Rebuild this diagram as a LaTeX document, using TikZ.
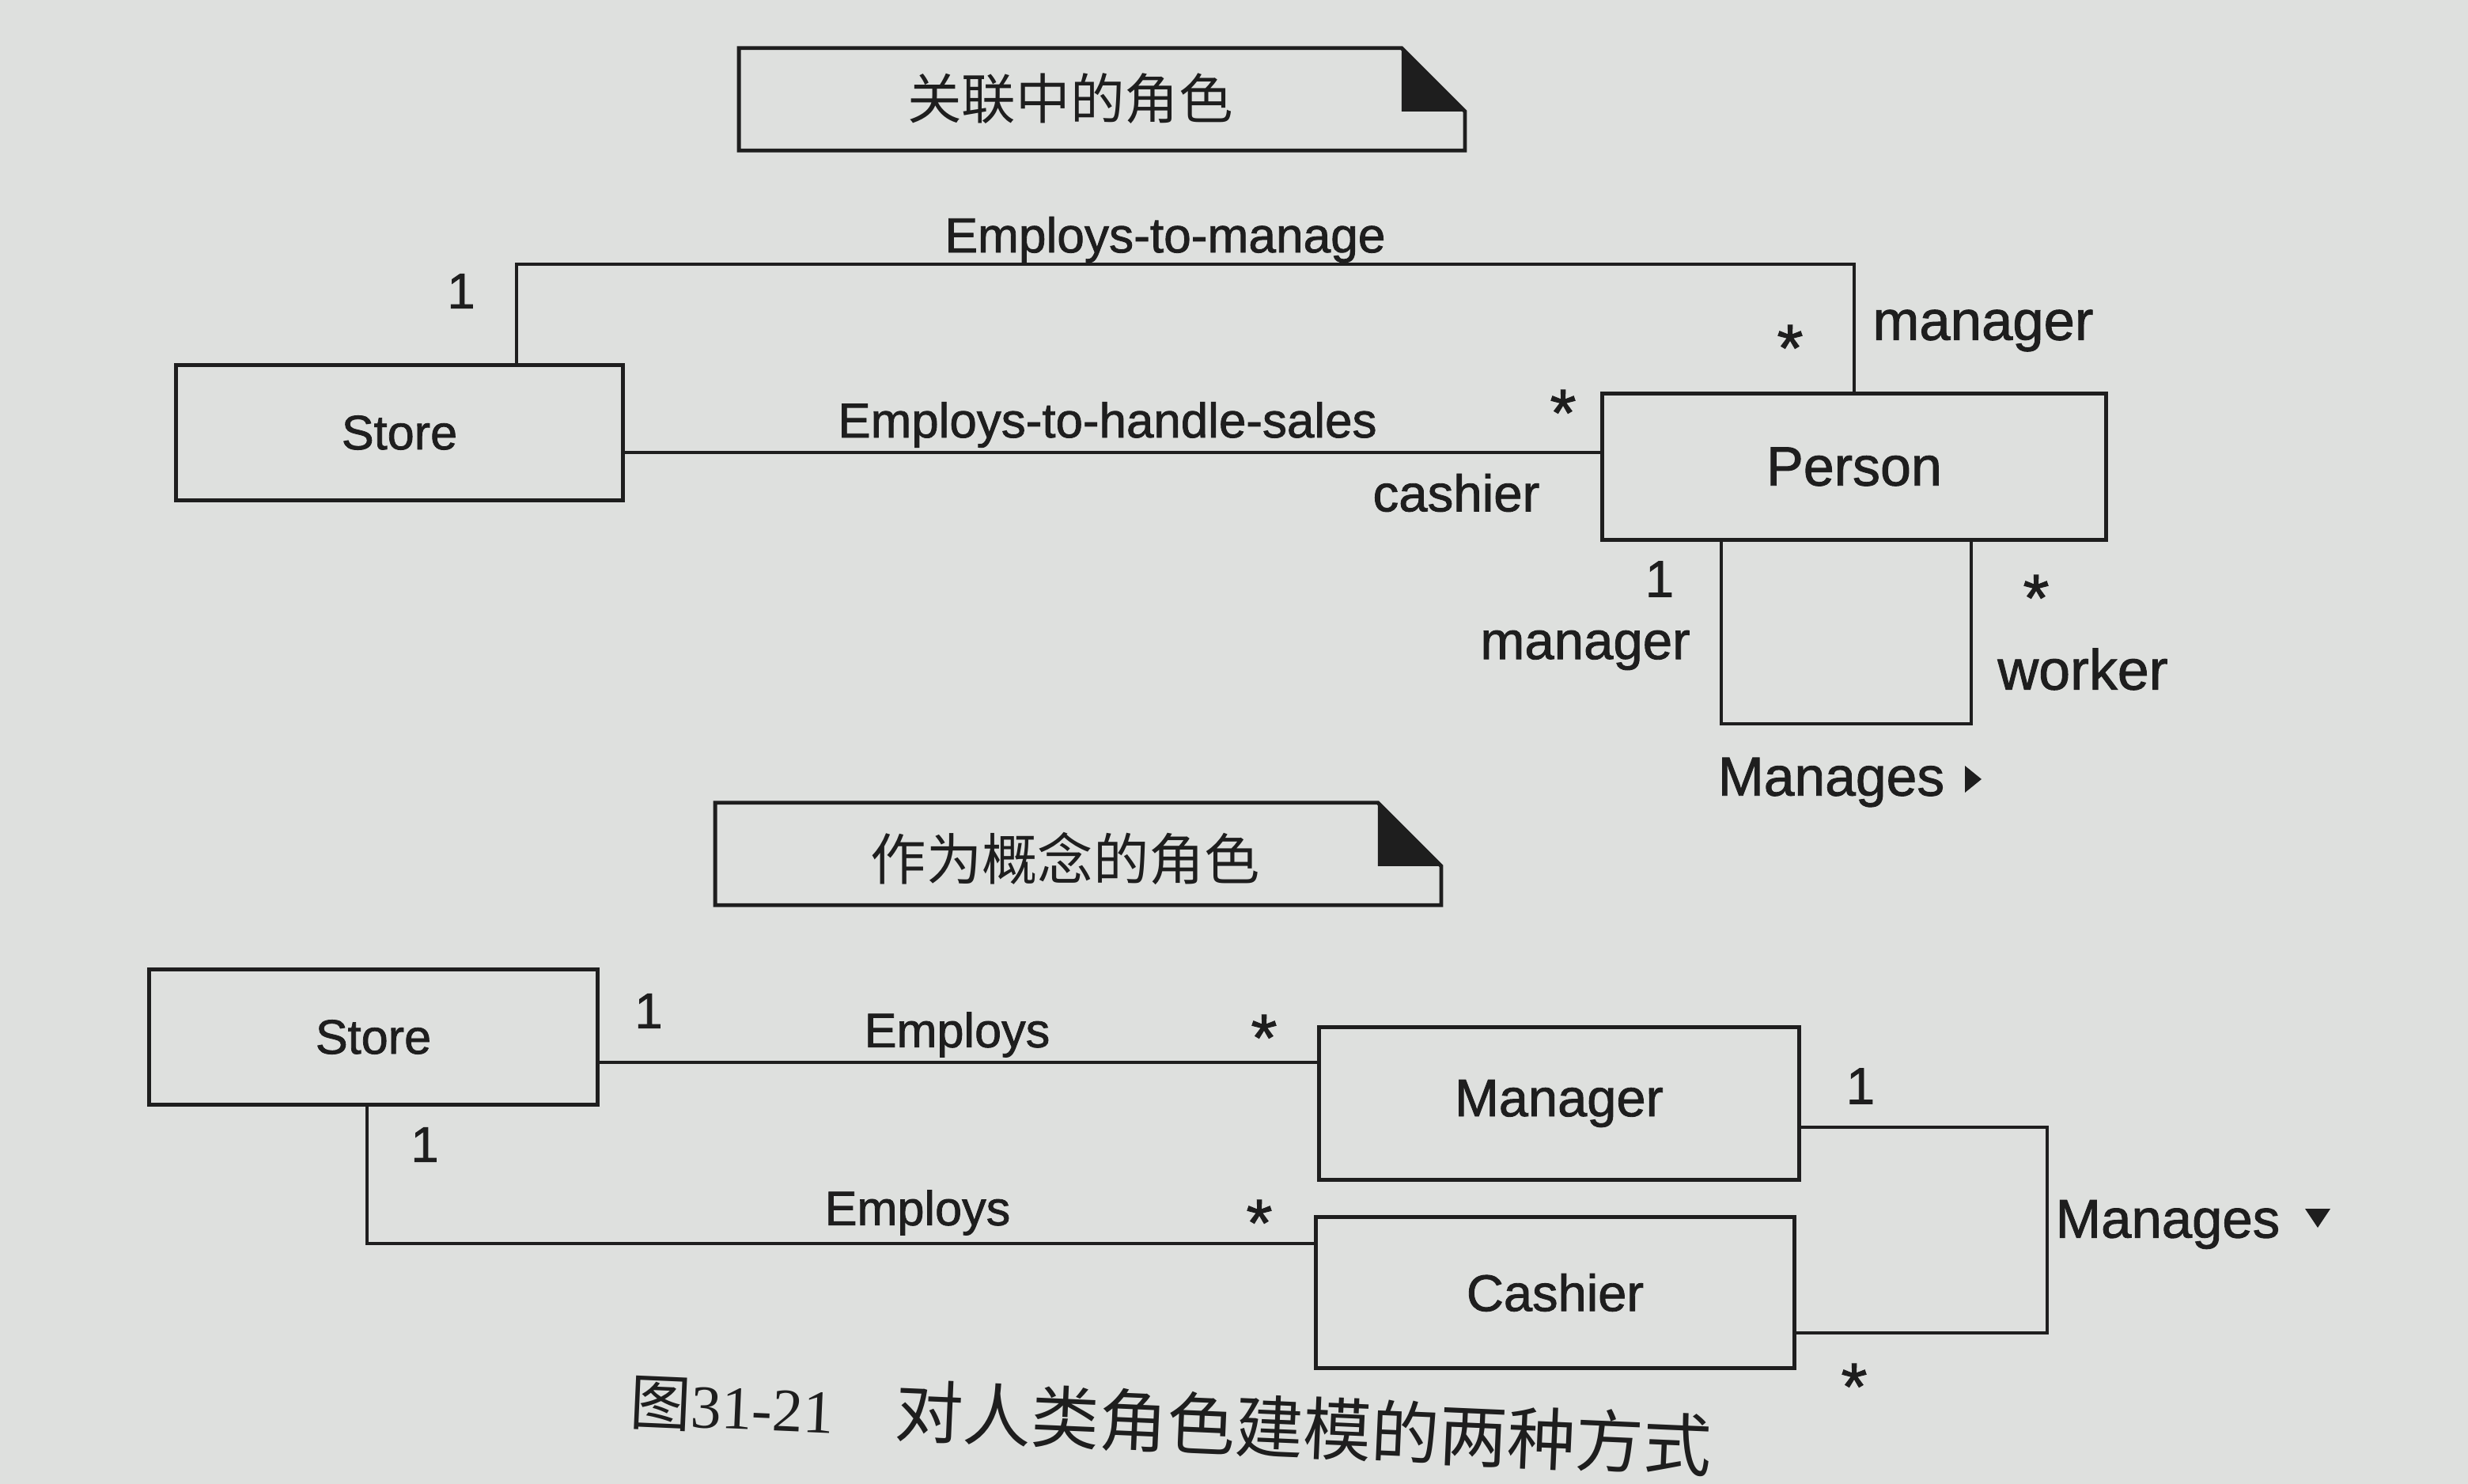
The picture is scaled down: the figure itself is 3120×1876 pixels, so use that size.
\documentclass[tikz,border=0pt]{standalone}
\usepackage{fontspec}
\setmainfont{Liberation Sans}
\newfontfamily\lblfont[FakeBold=1.3]{Liberation Sans}
\newfontfamily\cjk{Noto Sans CJK SC}
\newfontfamily\capserif{Liberation Serif}
\usetikzlibrary{calc}
\definecolor{paper}{RGB}{222,224,222}
\definecolor{ink}{RGB}{30,30,30}
\begin{document}
\begin{tikzpicture}[x=0.01cm,y=-0.01cm,
  cls/.style={draw=ink,line width=1.4pt,inner sep=0pt},
  assoc/.style={draw=ink,line width=1.4pt},
  lbl/.style={text=ink,inner sep=0pt,font=\lblfont\fontsize{#1}{#1}\selectfont},
  lbl/.default=17.5pt,
  mult/.style={text=ink,inner sep=0pt,font=\lblfont\fontsize{24pt}{24pt}\selectfont,yshift=-0.18cm},
  notebox/.style={inner sep=0pt,minimum width=9.16cm,minimum height=1.28cm},
  notetext/.style={text=ink,inner sep=0pt,font=\cjk\fontsize{#1}{#1}\selectfont},
  fold/.style={fill=ink}]
\fill[paper] (0,0) rectangle (3120,1876);
\useasboundingbox (0,0) rectangle (3120,1876);

% ---------- top note ----------
\node[notebox] (note1) at (1393,125.5) {};
\draw[assoc] (note1.north west) -- ([xshift=-0.8cm]note1.north east) -- ([yshift=-0.8cm]note1.north east) -- (note1.south east) -- (note1.south west) -- cycle;
\fill[fold] ([xshift=-0.8cm]note1.north east) -- ([xshift=-0.8cm,yshift=-0.8cm]note1.north east) -- ([yshift=-0.8cm]note1.north east) -- cycle;
\node[notetext=19.5pt] (note1t) at (1353,125) {关联中的角色};

% ---------- top classes ----------
\node[cls,minimum width=5.65cm,minimum height=1.71cm,lbl=17.4pt] (store1) at (505,547) {Store};
\node[cls,minimum width=6.37cm,minimum height=1.84cm,lbl=19.9pt] (person) at (2344,590) {Person};

% Employs-to-manage
\coordinate (etm) at (653,334);
\draw[assoc] (store1.north -| etm) -- (etm) -- (etm -| person.north) -- (person.north);
\node[lbl=17.7pt] (etmlbl) at (1473,303) {Employs-to-manage};
\node[lbl=18pt] (etm1) at (583,368) {1};
\node[mult] (etmstar) at (2263,422) {*};
\node[lbl=20.1pt] (etmrole) at (2507,418) {manager};

% Employs-to-handle-sales
\coordinate (ehs) at (0,572);
\draw[assoc] (store1.east |- ehs) -- (person.west |- ehs);
\node[lbl=17.6pt] (ehslbl) at (1400,537) {Employs-to-handle-sales};
\node[mult] (ehsstar) at (1976,504) {*};
\node[lbl=18.6pt] (ehsrole) at (1841,623) {cashier};

% Manages (reflexive)
\coordinate (mgl) at (2176,915);
\coordinate (mgr) at (2492,915);
\draw[assoc] (person.south -| mgl) -- (mgl) -- (mgr) -- (person.south -| mgr);
\node[lbl=18.5pt] (mg1) at (2098,732) {1};
\node[lbl=19.1pt] (mgrole1) at (2004,822) {manager};
\node[mult] (mgstar) at (2574,738) {*};
\node[lbl=20.4pt] (mgrole2) at (2633,846) {worker};
\node[lbl=19.8pt] (mglbl) at (2315,989) {Manages};
\fill[ink] (2484,968) -- (2505,985) -- (2484,1002) -- cycle;

% ---------- bottom note ----------
\node[notebox] (note2) at (1363,1079.5) {};
\draw[assoc] (note2.north west) -- ([xshift=-0.8cm]note2.north east) -- ([yshift=-0.8cm]note2.north east) -- (note2.south east) -- (note2.south west) -- cycle;
\fill[fold] ([xshift=-0.8cm]note2.north east) -- ([xshift=-0.8cm,yshift=-0.8cm]note2.north east) -- ([yshift=-0.8cm]note2.north east) -- cycle;
\node[notetext=20pt] (note2t) at (1347,1085) {作为概念的角色};

% ---------- bottom classes ----------
\node[cls,minimum width=5.67cm,minimum height=1.71cm,lbl=17.4pt] (store2) at (472,1311) {Store};
\node[cls,minimum width=6.07cm,minimum height=1.92cm,lbl=19pt] (manager) at (1971,1395) {Manager};
\node[cls,minimum width=6.05cm,minimum height=1.91cm,lbl=18.5pt] (cashier) at (1966,1634) {Cashier};

% Employs (Store - Manager)
\coordinate (e1) at (0,1343);
\draw[assoc] (store2.east |- e1) -- (manager.west |- e1);
\node[lbl=18pt] (e1one) at (820,1278) {1};
\node[lbl=17.4pt] (e1lbl) at (1210,1308) {Employs};
\node[mult] (e1star) at (1598,1294) {*};

% Employs (Store - Cashier)
\coordinate (e2) at (464,1572);
\draw[assoc] (store2.south -| e2) -- (e2) -- (e2 -| cashier.west);
\node[lbl=18pt] (e2one) at (537,1447) {1};
\node[lbl=17.4pt] (e2lbl) at (1160,1533) {Employs};
\node[mult] (e2star) at (1592,1528) {*};

% Manages (Manager - Cashier)
\coordinate (m2t) at (2588,1425);
\coordinate (m2b) at (2588,1685);
\draw[assoc] (manager.east |- m2t) -- (m2t) -- (m2b) -- (cashier.east |- m2b);
\node[lbl=18.5pt] (m2one) at (2352,1373) {1};
\node[mult] (m2star) at (2344,1735) {*};
\node[lbl=19.6pt,anchor=west] (m2lbl) at (2598,1548) {Manages};
\fill[ink] (2914,1528) -- (2946,1528) -- (2930,1552) -- cycle;

% ---------- caption ----------
\node[anchor=west,rotate=-2.5,text=ink,inner sep=0pt] (cap) at (796,1768)
  {\cjk\fontsize{22pt}{22pt}\selectfont 图\capserif 31-21\hspace{1em}\cjk\fontsize{24.5pt}{24.5pt}\selectfont 对人类角色建模的两种方式};
\end{tikzpicture}
\end{document}
